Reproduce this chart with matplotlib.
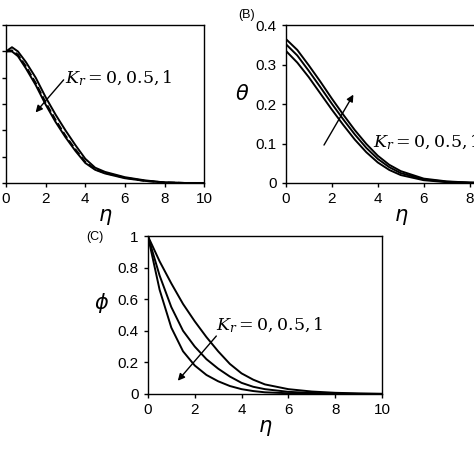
import matplotlib
matplotlib.use("Agg")
import matplotlib.pyplot as plt
import numpy as np

plt.rcParams['font.family'] = ['Liberation Sans', 'DejaVu Sans']

eta_a = [0, 0.3, 0.6, 1, 1.5, 2, 2.5, 3, 3.5, 4, 4.5, 5, 6, 7, 8, 9, 10]
fA_kr0 = [0.250, 0.258, 0.250, 0.230, 0.200, 0.163, 0.130, 0.100, 0.072, 0.046, 0.029, 0.021, 0.011, 0.005, 0.001, 0.0, 0.0]
fA_kr05 = [0.250, 0.252, 0.244, 0.222, 0.190, 0.153, 0.120, 0.090, 0.064, 0.040, 0.026, 0.019, 0.010, 0.004, 0.001, 0.0, 0.0]
fA_kr1 = [0.250, 0.250, 0.241, 0.218, 0.186, 0.149, 0.116, 0.087, 0.061, 0.038, 0.025, 0.018, 0.009, 0.004, 0.001, 0.0, 0.0]

eta_b = [0, 0.5, 1, 1.5, 2, 2.5, 3, 3.5, 4, 4.5, 5, 6, 7, 8, 9, 10]
th_kr0 = [0.335, 0.305, 0.268, 0.227, 0.186, 0.147, 0.110, 0.078, 0.052, 0.033, 0.020, 0.007, 0.002, 0.0, 0.0, 0.0]
th_kr05 = [0.352, 0.323, 0.284, 0.243, 0.201, 0.161, 0.123, 0.089, 0.061, 0.040, 0.025, 0.009, 0.003, 0.001, 0.0, 0.0]
th_kr1 = [0.365, 0.337, 0.298, 0.257, 0.214, 0.173, 0.134, 0.099, 0.069, 0.046, 0.030, 0.011, 0.004, 0.001, 0.0, 0.0]

eta_c = [0, 0.5, 1, 1.5, 2, 2.5, 3, 3.5, 4, 4.5, 5, 6, 7, 8, 9, 10]
ph_kr0 = [1.0, 0.84, 0.70, 0.57, 0.46, 0.36, 0.27, 0.19, 0.13, 0.09, 0.06, 0.03, 0.015, 0.007, 0.003, 0.0]
ph_kr05 = [1.0, 0.75, 0.55, 0.40, 0.30, 0.22, 0.16, 0.11, 0.07, 0.045, 0.03, 0.013, 0.006, 0.002, 0.0, 0.0]
ph_kr1 = [1.0, 0.66, 0.42, 0.27, 0.18, 0.12, 0.08, 0.05, 0.03, 0.018, 0.01, 0.004, 0.001, 0.0, 0.0, 0.0]

fig = plt.figure(figsize=(4.74, 4.74), dpi=100)
axA = fig.add_axes([0.0127, 0.614, 0.418, 0.333])
axB = fig.add_axes([0.603, 0.614, 0.485, 0.333])
axC = fig.add_axes([0.312, 0.169, 0.494, 0.333])

kr = r'$K_r = 0,0.5,1$'
krkw = dict(fontsize=12.5, math_fontfamily='dejavuserif')

def style(ax):
    for s in ax.spines.values():
        s.set_linewidth(1.0)
    ax.tick_params(direction='out', length=3, labelsize=11, width=1)

axA.plot(eta_a, fA_kr0, 'k-', lw=1.4)
axA.plot(eta_a, fA_kr05, 'k--', lw=1.4)
axA.plot(eta_a, fA_kr1, 'k-', lw=1.4)
axA.set_xlim(0, 10); axA.set_ylim(0, 0.3)
axA.set_xticks([0, 2, 4, 6, 8, 10]); axA.set_yticks(np.arange(0, 0.31, 0.05))
axA.set_yticklabels([])
axA.set_xlabel(r'$\eta$', fontsize=15, labelpad=1)
axA.annotate('', xy=(1.4, 0.13), xytext=(3.0, 0.20), arrowprops=dict(arrowstyle='-|>', color='k', lw=1))
axA.text(3.0, 0.19, kr, **krkw)
style(axA)

axB.plot(eta_b, th_kr0, 'k-', lw=1.4)
axB.plot(eta_b, th_kr05, 'k-', lw=1.4)
axB.plot(eta_b, th_kr1, 'k-', lw=1.4)
axB.set_xlim(0, 10); axB.set_ylim(0, 0.4)
axB.set_xticks([0, 2, 4, 6, 8, 10]); axB.set_yticks([0, 0.1, 0.2, 0.3, 0.4])
axB.set_yticklabels(['0', '0.1', '0.2', '0.3', '0.4'])
axB.set_xlabel(r'$\eta$', fontsize=15, labelpad=1)
axB.set_ylabel(r'$\theta$', fontsize=15, rotation=0, labelpad=10)
axB.annotate('', xy=(3.0, 0.23), xytext=(1.6, 0.09), arrowprops=dict(arrowstyle='-|>', color='k', lw=1))
axB.text(3.8, 0.09, kr, **krkw)
style(axB)
fig.text(0.503, 0.962, '(B)', fontsize=9)

axC.plot(eta_c, ph_kr0, 'k-', lw=1.4)
axC.plot(eta_c, ph_kr05, 'k-', lw=1.4)
axC.plot(eta_c, ph_kr1, 'k-', lw=1.4)
axC.set_xlim(0, 10); axC.set_ylim(0, 1)
axC.set_xticks([0, 2, 4, 6, 8, 10]); axC.set_yticks([0, 0.2, 0.4, 0.6, 0.8, 1])
axC.set_yticklabels(['0', '0.2', '0.4', '0.6', '0.8', '1'])
axC.set_xlabel(r'$\eta$', fontsize=15, labelpad=1)
axC.set_ylabel(r'$\phi$', fontsize=15, rotation=0, labelpad=12)
axC.annotate('', xy=(1.2, 0.07), xytext=(3.0, 0.38), arrowprops=dict(arrowstyle='-|>', color='k', lw=1))
axC.text(2.9, 0.40, kr, **krkw)
style(axC)
fig.text(0.181, 0.493, '(C)', fontsize=9)

fig.savefig('out.png', dpi=100)
